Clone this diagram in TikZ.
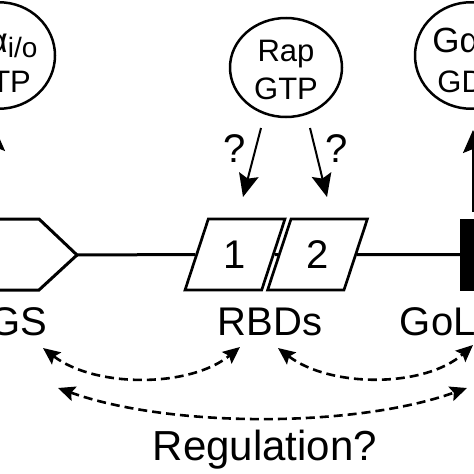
\documentclass[tikz,border=0pt]{standalone}
\usepackage{fontspec}
\setmainfont{Liberation Sans}
\usetikzlibrary{shapes.geometric,arrows.meta}
\newcommand{\galpha}{{\fontsize{35}{40}\selectfont Gα}\raisebox{-5pt}{\fontsize{28}{30}\selectfont i/o}}
\begin{document}
\begin{tikzpicture}[x=1pt,y=-1pt,
  bubble/.style={draw,ellipse,line width=2.5pt,minimum width=112pt,minimum height=105pt,inner sep=0pt,align=center},
  lab/.style={font=\fontsize{40}{48}\selectfont,inner sep=0pt,anchor=base},
  rbd/.style={draw,trapezium,trapezium left angle=70.6,trapezium right angle=109.4,minimum width=100pt,minimum height=71pt,line width=2.7pt,inner sep=0pt,trapezium stretches=true,font=\fontsize{40}{48}\selectfont},
  arr/.style={line width=2pt,-{Stealth[length=23pt,width=20pt,inset=4pt]}},
  reg/.style={line width=2.6pt,dash pattern=on 9pt off 5pt,{Stealth[length=17pt,width=15pt,inset=3pt]}-{Stealth[length=17pt,width=15pt,inset=3pt]}},
  mainline/.style={line width=3pt}]
\useasboundingbox (0,0) rectangle (474,474);
% bubbles
\node[bubble,font=\fontsize{31}{40}\selectfont] (gi) at (-1,55.5) {\rule{0pt}{35pt}\galpha\\GTP};
\node[bubble,minimum height=99pt,font=\fontsize{31}{38}\selectfont] (rap) at (286,67.5) {\rule{0pt}{27pt}Rap\\GTP};
\node[bubble,font=\fontsize{31}{40}\selectfont] (gd) at (471,55.5) {\rule{0pt}{35pt}\galpha\\GDP};
% RGS domain
\draw[line width=3pt,line join=miter] (-5,219) -- (39,219) -- (77,255) -- (39,290) -- (-5,290);
\coordinate (rgstip) at (77,255);
% RBDs
\node[rbd] (b1) at (235,254.5) {1};
\node[rbd] (b2) at (317.5,254.5) {2};
% GoLoco
\node[draw,fill=black,minimum width=20pt,minimum height=71pt,inner sep=0pt] (gl) at (470,254.5) {};
% main line
\draw[mainline] (rgstip) -- (b1.west);
\draw[mainline] (b1.east) -- (b2.west);
\draw[mainline] (b2.east) -- (gl.west);
% labels
\node[lab] (lrgs) at (3.6,335) {RGS};
\node[lab] (lrbd) at (270,335) {RBDs};
\node[lab] (lgl) at (470,335) {GoLoco};
\node[lab] (q1) at (235,162) {?};
\node[lab] (q2) at (337,162) {?};
\node[lab,font=\fontsize{42}{48}\selectfont] (lreg) at (265,460) {Regulation?};
% arrows
\coordinate (a1s) at (261,128); \coordinate (a1e) at (243,197);
\coordinate (a2s) at (310,128); \coordinate (a2e) at (327,197);
\coordinate (a3s) at (-5,217);  \coordinate (a3e) at (-5,128);
\coordinate (a4s) at (473,212); \coordinate (a4e) at (473,130);
\draw[arr] (a1s) -- (a1e);
\draw[arr] (a2s) -- (a2e);
\draw[arr] (a3s) -- (a3e);
\draw[arr] (a4s) -- (a4e);
% regulation arcs
\coordinate (c1a) at (43,348);  \coordinate (c1b) at (240,347);
\coordinate (c2a) at (278,348); \coordinate (c2b) at (473,345);
\coordinate (c3a) at (58,388);  \coordinate (c3b) at (467,388);
\draw[reg] (c1a) .. controls (95,388) and (190,388) .. (c1b);
\draw[reg] (c2a) .. controls (330,388) and (425,388) .. (c2b);
\draw[reg] (c3a) .. controls (170,428) and (355,428) .. (c3b);
\end{tikzpicture}
\end{document}
